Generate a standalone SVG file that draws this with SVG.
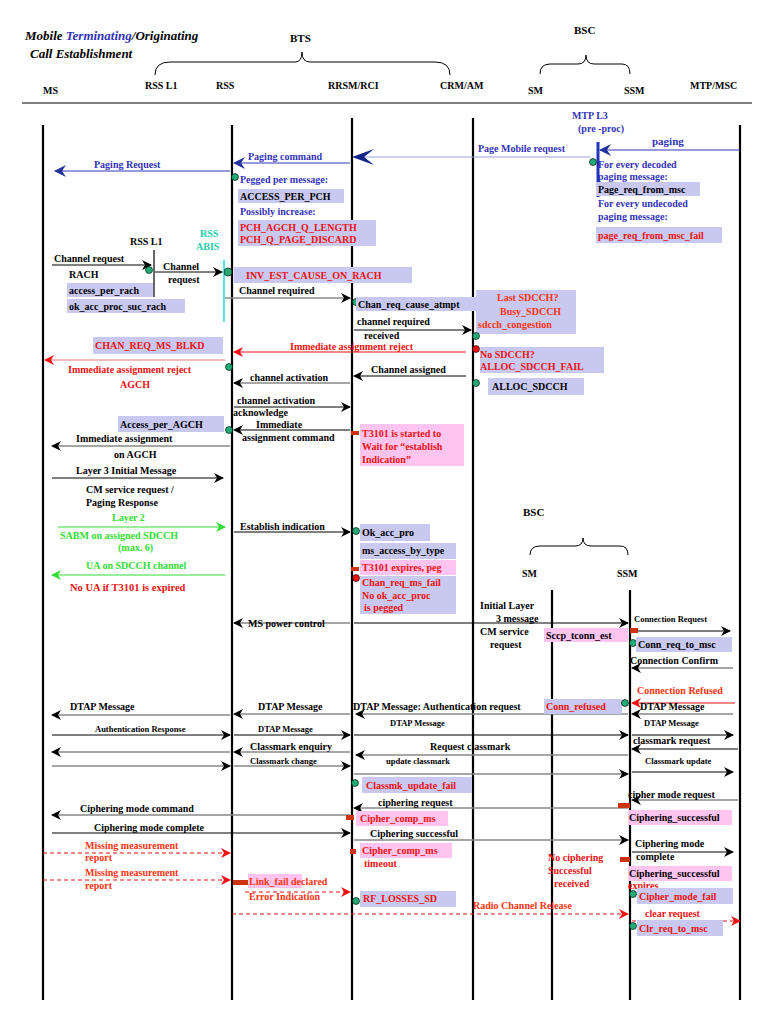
<svg xmlns="http://www.w3.org/2000/svg" width="768" height="1024" viewBox="0 0 768 1024">
<style>
text{font-family:"Liberation Serif",serif;font-weight:bold;font-size:10px;fill:#000}
.b{fill:#3333bb}.r{fill:#ee1111}.g{fill:#33dd33}.c{fill:#22ccaa}.o{fill:#ff3311}
.s{font-size:8.5px}
.hb{fill:#c8c8f0}.hp{fill:#ffc4f0}
.ll{stroke:#000;stroke-width:2.2}
.ak{stroke:#000;stroke-width:1;fill:none;marker-end:url(#mk)}
.ag{stroke:#888;stroke-width:1.4;fill:none;marker-end:url(#mk)}
.ab{stroke:#3333bb;stroke-width:1;fill:none;marker-end:url(#mb)}
.ar{stroke:#ee1111;stroke-width:1;fill:none;marker-end:url(#mr)}
.ad{stroke:#ee1111;stroke-width:1;fill:none;stroke-dasharray:4,3;marker-end:url(#mr)}
.agr{stroke:#33dd33;stroke-width:1.2;fill:none;marker-end:url(#mg)}
.dot{fill:#22aa77;stroke:#000;stroke-width:0.6}
.rd{fill:#ee1111;stroke:#000;stroke-width:0.6}
.rr{fill:#cc3311}
</style>
<defs>
<marker id="mk" markerWidth="10" markerHeight="10" refX="9" refY="5" orient="auto" markerUnits="userSpaceOnUse"><path d="M0,0 L10,5 L0,10 L3,5z" fill="#000"/></marker>
<marker id="mb" markerWidth="12" markerHeight="12" refX="11" refY="6" orient="auto" markerUnits="userSpaceOnUse"><path d="M0,0 L12,6 L0,12 L4,6z" fill="#223399"/></marker>
<marker id="mr" markerWidth="10" markerHeight="10" refX="9" refY="5" orient="auto" markerUnits="userSpaceOnUse"><path d="M0,0 L10,5 L0,10 L3,5z" fill="#ee1111"/></marker>
<marker id="mg" markerWidth="10" markerHeight="10" refX="9" refY="5" orient="auto" markerUnits="userSpaceOnUse"><path d="M0,0 L10,5 L0,10 L3,5z" fill="#33dd33"/></marker>
</defs>
<rect width="768" height="1024" fill="#fff"/>

<g id="header">
<text x="25" y="40" style="font-size:13px;font-style:italic">Mobile <tspan class="b">Terminating</tspan>/Originating</text>
<text x="30" y="58" style="font-size:13px;font-style:italic">Call Establishment</text>
<text x="290" y="42" style="font-size:11px">BTS</text>
<path d="M155,75 Q155,62 170,62 L295,62 Q302,62 302,52 Q302,62 310,62 L435,62 Q450,62 450,75" fill="none" stroke="#000"/>
<text x="574" y="34" style="font-size:11px">BSC</text>
<path d="M540,74 Q540,64 550,64 L578,64 Q586,64 586,55 Q586,64 594,64 L622,64 Q630,64 630,74" fill="none" stroke="#000"/>
<text x="43" y="94">MS</text><text x="145" y="89">RSS L1</text><text x="216" y="89">RSS</text>
<text x="328" y="89">RRSM/RCI</text><text x="440" y="89">CRM/AM</text><text x="528" y="94">SM</text>
<text x="624" y="94">SSM</text><text x="690" y="89">MTP/MSC</text>
<line x1="22" y1="103" x2="752" y2="103" stroke="#000" stroke-width="1.2"/>
</g>

<g id="lifelines">
<line class="ll" x1="43" y1="125" x2="43" y2="1000"/>
<line class="ll" x1="232" y1="125" x2="232" y2="1000"/>
<line class="ll" x1="352" y1="118" x2="352" y2="1000"/>
<line class="ll" x1="473" y1="118" x2="473" y2="1000"/>
<line class="ll" x1="740" y1="125" x2="740" y2="1000"/>
<line class="ll" x1="552" y1="590" x2="552" y2="1000"/>
<line class="ll" x1="630" y1="590" x2="630" y2="1000"/>
<line x1="598" y1="142" x2="598" y2="197" stroke="#2233bb" stroke-width="3"/>
<line x1="154" y1="250" x2="154" y2="297" stroke="#000" stroke-width="1.2"/>
<line x1="224" y1="260" x2="224" y2="322" stroke="#22dddd" stroke-width="1.5"/>
<text x="572" y="119" class="b">MTP L3</text><text x="578" y="132" class="b">(pre -proc)</text>
<text x="130" y="245">RSS L1</text>
<text x="200" y="237" class="c">RSS</text><text x="196" y="250" class="c">ABIS</text>
<text x="523" y="516" style="font-size:11px">BSC</text>
<path d="M530,555 Q530,546 540,546 L575,546 Q583,546 583,538 Q583,546 591,546 L620,546 Q628,546 628,555" fill="none" stroke="#000"/>
<text x="522" y="577">SM</text><text x="617" y="577">SSM</text>
</g>

<g id="connectors">
<line class="ab" x1="740" y1="150" x2="600" y2="150"/>
<line x1="590" y1="157" x2="356" y2="157" stroke="#99a0dd" stroke-width="1"/>
<path d="M352,157 L374,149 L364,157 L374,165z" fill="#112288"/>
<line class="ab" x1="350" y1="163" x2="234" y2="163"/>
<line class="ab" x1="230" y1="171" x2="55" y2="171"/>
<line class="ak" x1="52" y1="265" x2="151" y2="265"/>
<line class="ak" x1="155" y1="272" x2="222" y2="272"/>
<line class="ag" x1="225" y1="298" x2="350" y2="298"/>
<line class="ak" x1="354" y1="330" x2="471" y2="330"/>
<line class="ar" x1="466" y1="352" x2="234" y2="352"/>
<line class="ar" x1="225" y1="360" x2="45" y2="360" style="stroke:#dd7777"/>
<line class="ak" x1="466" y1="376" x2="354" y2="376"/>
<line class="ag" x1="350" y1="383" x2="234" y2="383"/>
<line class="ak" x1="234" y1="407" x2="350" y2="407"/>
<line class="ak" x1="350" y1="430" x2="234" y2="430"/>
<line class="ag" x1="230" y1="446" x2="52" y2="446"/>
<line class="ak" x1="52" y1="478" x2="223" y2="478"/>
<line class="agr" x1="58" y1="527" x2="225" y2="527"/>
<line class="agr" x1="225" y1="575" x2="52" y2="575"/>
<line class="ak" x1="234" y1="532" x2="350" y2="532"/>
<line class="ak" x1="354" y1="623" x2="628" y2="623"/>
<line class="ag" x1="350" y1="623" x2="234" y2="623"/>
<line class="ak" x1="632" y1="631" x2="730" y2="631"/>
<line class="ag" x1="733" y1="668" x2="632" y2="668"/>
<line class="ar" x1="735" y1="703" x2="632" y2="703"/>
<line class="ag" x1="230" y1="715" x2="52" y2="715"/>
<line class="ag" x1="350" y1="714" x2="234" y2="714"/>
<line class="ag" x1="628" y1="714" x2="356" y2="714"/>
<line class="ag" x1="733" y1="714" x2="632" y2="714"/>
<line class="ak" x1="52" y1="735" x2="230" y2="735"/>
<line class="ak" x1="234" y1="735" x2="350" y2="735"/>
<line class="ak" x1="354" y1="735" x2="628" y2="735"/>
<line class="ak" x1="632" y1="735" x2="733" y2="735"/>
<line class="ak" x1="738" y1="749" x2="632" y2="749"/>
<line class="ag" x1="350" y1="752" x2="234" y2="752"/>
<line class="ag" x1="230" y1="752" x2="52" y2="752"/>
<line class="ag" x1="628" y1="755" x2="356" y2="755"/>
<line class="ag" x1="52" y1="766" x2="230" y2="766"/>
<line class="ag" x1="234" y1="766" x2="350" y2="766"/>
<line class="ag" x1="354" y1="774" x2="628" y2="774"/>
<line class="ak" x1="632" y1="772" x2="733" y2="772"/>
<line class="ag" x1="738" y1="800" x2="632" y2="800"/>
<line class="ag" x1="628" y1="808" x2="354" y2="808"/>
<line class="ag" x1="350" y1="815" x2="52" y2="815"/>
<line class="ak" x1="52" y1="833" x2="350" y2="833"/>
<line class="ag" x1="354" y1="840" x2="628" y2="840"/>
<line class="ak" x1="632" y1="852" x2="733" y2="852"/>
<line class="ad" x1="43" y1="853" x2="230" y2="853"/>
<line class="ad" x1="43" y1="880" x2="230" y2="880"/>
<line class="ad" x1="245" y1="892" x2="350" y2="892"/>
<line class="ad" x1="232" y1="914" x2="628" y2="914"/>
<line class="ad" x1="632" y1="921" x2="740" y2="921"/>
</g>

<g id="labels">
<text x="652" y="145" class="b" style="font-size:11px">paging</text>
<text x="478" y="152" class="b">Page Mobile request</text>
<text x="248" y="160" class="b">Paging command</text>
<text x="94" y="168" class="b">Paging Request</text>
<circle class="dot" cx="235" cy="177" r="3.5"/>
<text x="240" y="183" class="b">Pegged per message:</text>
<rect class="hb" x="238" y="189" width="106" height="14"/><text x="240" y="200">ACCESS_PER_PCH</text>
<text x="240" y="215" class="b">Possibly increase:</text>
<rect class="hb" x="238" y="220" width="138" height="26"/>
<text x="240" y="231" class="r">PCH_AGCH_Q_LENGTH</text><text x="240" y="243" class="r">PCH_Q_PAGE_DISCARD</text>
<circle class="dot" cx="593" cy="162" r="3.5"/>
<text x="598" y="168" class="b">For every decoded</text><text x="598" y="180" class="b">paging message:</text>
<rect class="hb" x="596" y="182" width="104" height="14"/><text x="598" y="193">Page_req_from_msc</text>
<text x="598" y="207" class="b">For every undecoded</text><text x="598" y="220" class="b">paging message:</text>
<rect class="hb" x="596" y="227" width="126" height="16"/><text x="598" y="239" class="r">page_req_from_msc_fail</text>

<text x="54" y="262">Channel request</text>
<circle class="dot" cx="149" cy="270" r="3.5"/>
<text x="69" y="278">RACH</text>
<rect class="hb" x="67" y="283" width="86" height="14"/><text x="69" y="294">access_per_rach</text>
<rect class="hb" x="67" y="299" width="118" height="14"/><text x="69" y="310">ok_acc_proc_suc_rach</text>
<text x="163" y="270">Channel</text><text x="168" y="283">request</text>
<circle class="dot" cx="228" cy="272" r="4"/>
<rect class="hb" x="234" y="267" width="178" height="16"/><text x="246" y="279" class="r">INV_EST_CAUSE_ON_RACH</text>
<text x="239" y="294">Channel required</text>
<circle class="dot" cx="356" cy="302" r="3.5"/>
<rect class="hb" x="356" y="297" width="124" height="14"/><text x="358" y="308">Chan_req_cause_atmpt</text>
<rect class="hb" x="476" y="290" width="100" height="44"/>
<text x="497" y="301" class="o">Last SDCCH?</text><text x="500" y="315" class="o">Busy_SDCCH</text>
<text x="478" y="328" class="o">sdcch_congestion</text>
<text x="357" y="325">channel required</text><text x="364" y="339">received</text>
<circle class="dot" cx="476" cy="336" r="3.5"/>
<text x="290" y="350" class="r">Immediate   assignment reject</text>
<circle class="rd" cx="476" cy="349" r="3.5"/>
<rect class="hb" x="480" y="347" width="124" height="26"/>
<text x="480" y="358" class="r">No SDCCH?</text><text x="480" y="370" class="r">ALLOC_SDCCH_FAIL</text>
<rect class="hb" x="93" y="337" width="130" height="17"/><text x="95" y="349" class="r">CHAN_REQ_MS_BLKD</text>
<circle class="dot" cx="229" cy="367" r="3.5"/>
<text x="68" y="373" class="r">Immediate assignment reject</text><text x="120" y="388" class="r">AGCH</text>
<text x="371" y="373">Channel  assigned</text>
<text x="250" y="381">channel  activation</text>
<circle class="dot" cx="476" cy="383" r="3.5"/>
<rect class="hb" x="488" y="378" width="96" height="17"/><text x="492" y="390">ALLOC_SDCCH</text>
<text x="237" y="404">channel  activation</text><text x="233" y="416">acknowledge</text>
<rect class="hb" x="118" y="416" width="106" height="16"/><text x="120" y="428">Access_per_AGCH</text>
<circle class="dot" cx="229" cy="430" r="3.5"/>
<text x="256" y="428">Immediate</text><text x="242" y="441">assignment command</text>
<rect class="rr" x="351" y="431" width="8" height="4"/>
<rect class="hp" x="360" y="424" width="104" height="42"/>
<text x="362" y="437" class="r">T3101 is started to</text>
<text x="362" y="450" class="r">Wait for “establish</text><text x="362" y="463" class="r">Indication”</text>
<text x="76" y="442">Immediate assignment</text><text x="114" y="458">on AGCH</text>
<text x="76" y="474">Layer 3 Initial  Message</text>
<text x="86" y="493">CM  service request /</text><text x="86" y="506">Paging Response</text>
<text x="112" y="521" class="g">Layer 2</text>
<text x="60" y="539" class="g">SABM  on assigned SDCCH</text><text x="118" y="551" class="g">(max. 6)</text>
<text x="86" y="569" class="g">UA on SDCCH channel</text>
<text x="70" y="591" class="r" style="font-size:10.5px">No UA if T3101  is expired</text>
<text x="240" y="530">Establish indication</text>
<circle class="dot" cx="356" cy="531" r="3.5"/>
<rect class="hb" x="360" y="524" width="70" height="17"/><text x="362" y="536">Ok_acc_pro</text>
<rect class="hb" x="360" y="543" width="96" height="16"/><text x="362" y="554">ms_access_by_type</text>
<rect class="rr" x="351" y="567" width="8" height="4"/>
<rect class="hp" x="360" y="560" width="96" height="15"/><text x="362" y="571" class="r">T3101 expires, peg</text>
<circle class="rd" cx="356" cy="578" r="3.5"/>
<rect class="hb" x="360" y="576" width="96" height="38"/>
<text x="362" y="586" class="r">Chan_req_ms_fail</text><text x="362" y="599" class="r">No ok_acc_proc</text><text x="364" y="611" class="r">is pegged</text>

<text x="480" y="609">Initial Layer</text><text x="496" y="622">3 message</text>
<text x="480" y="635">CM    service</text><text x="490" y="648">request</text>
<text x="248" y="627">MS power control</text>
<text x="634" y="622" class="s">Connection Request</text>
<rect class="rr" x="630" y="628" width="8" height="5"/>
<rect class="hp" x="544" y="628" width="84" height="14"/><text x="546" y="639">Sccp_tconn_est</text>
<circle class="dot" cx="633" cy="643" r="3.5"/>
<rect class="hb" x="636" y="637" width="96" height="15"/><text x="638" y="648">Conn_req_to_msc</text>
<text x="630" y="664">Connection Confirm</text>
<text x="637" y="694" class="o">Connection Refused</text>
<rect class="hb" x="544" y="699" width="78" height="15"/><text x="546" y="710" class="r">Conn_refused</text>
<circle class="dot" cx="625" cy="703" r="3.5"/>
<text x="70" y="710">DTAP Message</text><text x="258" y="710">DTAP Message</text>
<text x="353" y="710">DTAP Message: Authentication request</text>
<text x="640" y="710">DTAP Message</text>
<text x="390" y="726" class="s">DTAP Message</text><text x="644" y="726" class="s">DTAP Message</text>
<text x="95" y="732" class="s">Authentication Response</text><text x="258" y="732" class="s">DTAP Message</text>
<text x="633" y="744">classmark request</text>
<text x="250" y="750">Classmark enquiry</text><text x="430" y="750">Request   classmark</text>
<text x="250" y="764" class="s">Classmark change</text><text x="386" y="764" class="s">update classmark</text>
<text x="645" y="764" class="s">Classmark update</text>
<circle class="dot" cx="355" cy="783" r="3.5"/>
<rect class="hb" x="362" y="777" width="110" height="16"/><text x="366" y="789" class="r">Classmk_update_fail</text>
<text x="628" y="798">cipher mode request</text>
<rect class="rr" x="618" y="803" width="12" height="5"/>
<text x="378" y="806">ciphering request</text>
<text x="80" y="812">Ciphering mode command</text>
<rect class="rr" x="346" y="815" width="8" height="5"/>
<rect class="hp" x="356" y="811" width="92" height="15"/><text x="360" y="822" class="r">Cipher_comp_ms</text>
<rect class="hp" x="628" y="810" width="104" height="15"/><text x="629" y="821">Ciphering_successful</text>
<text x="94" y="831">Ciphering mode complete</text>
<text x="370" y="837">Ciphering successful</text>
<text x="635" y="847">Ciphering mode</text><text x="636" y="860">complete</text>
<text x="85" y="849" class="o">Missing measurement</text><text x="85" y="861" class="o">report</text>
<rect class="rr" x="350" y="849" width="6" height="5"/>
<rect class="hp" x="360" y="843" width="92" height="15"/><text x="362" y="854" class="r">Cipher_comp_ms</text>
<text x="364" y="867" class="r">timeout</text>
<text x="548" y="861" class="r">No ciphering</text><text x="548" y="874" class="r">Successful</text><text x="554" y="887" class="r">received</text>
<rect class="rr" x="620" y="857" width="10" height="5"/>
<rect class="hp" x="628" y="866" width="104" height="15"/><text x="629" y="877">Ciphering_successful</text>
<text x="628" y="889" class="r">expires</text>
<text x="85" y="876" class="o">Missing measurement</text><text x="85" y="889" class="o">report</text>
<rect class="rr" x="233" y="880" width="15" height="5"/>
<rect class="hp" x="248" y="874" width="54" height="14"/><text x="249" y="885" class="o">Link_fail declared</text>
<text x="249" y="900" class="o">Error Indication</text>
<circle class="dot" cx="356" cy="901" r="3.5"/>
<rect class="hb" x="360" y="891" width="96" height="16"/><text x="363" y="902" class="r">RF_LOSSES_SD</text>
<circle class="dot" cx="633" cy="894" r="3.5"/>
<rect class="hb" x="637" y="888" width="96" height="16"/><text x="639" y="900" class="r">Cipher_mode_fail</text>
<text x="473" y="909" class="o">Radio Channel  Release</text>
<text x="645" y="917" class="r">clear request</text>
<circle class="dot" cx="633" cy="926" r="3.5"/>
<rect class="hb" x="637" y="920" width="86" height="16"/><text x="639" y="932" class="r">Clr_req_to_msc</text>
</g>
</svg>
